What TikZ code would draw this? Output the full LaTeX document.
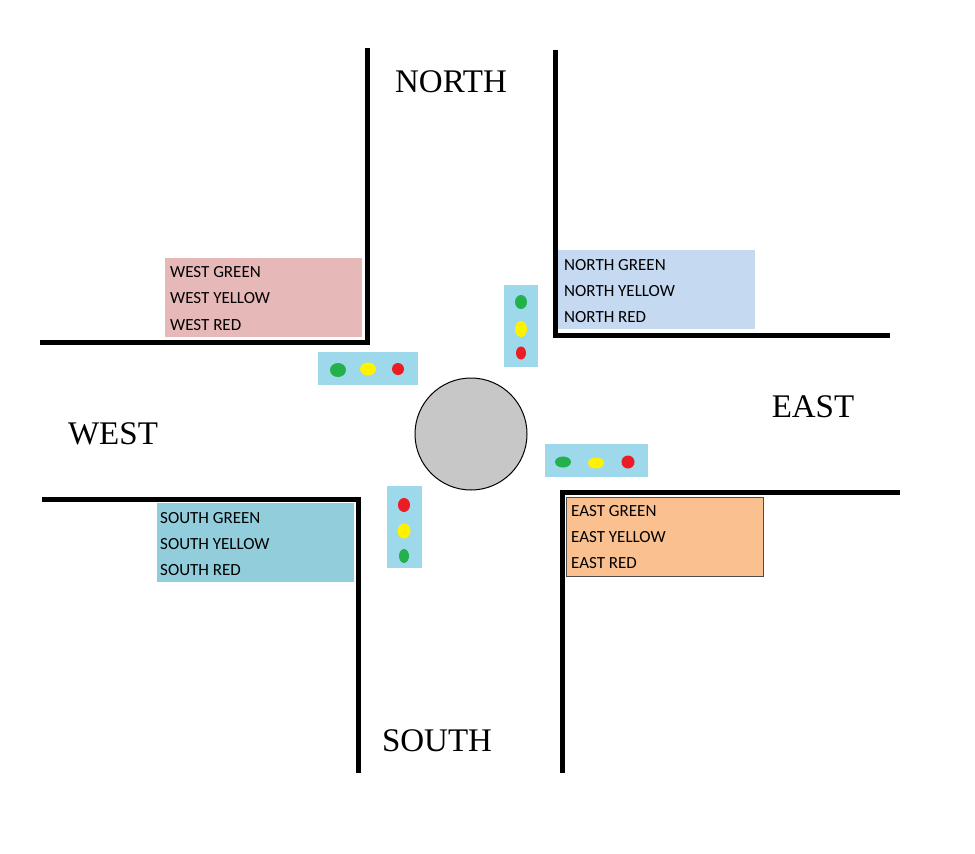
\documentclass[tikz,border=0pt]{standalone}
\usepackage{fontspec}
\setmainfont{Liberation Serif}
\newfontfamily\boxfont{Carlito}
\definecolor{pinkbox}{HTML}{E6B8B7}
\definecolor{bluebox}{HTML}{C5D9F1}
\definecolor{tealbox}{HTML}{92CDDC}
\definecolor{orangebox}{HTML}{FAC090}
\definecolor{lightbg}{HTML}{9DD9EA}
\definecolor{lgreen}{HTML}{22B14C}
\definecolor{lyellow}{HTML}{FFF200}
\definecolor{lred}{HTML}{ED1C24}
\begin{document}
\begin{tikzpicture}[x=1pt,y=-1pt,
  edge/.style={line width=5pt},
  infobox/.style={anchor=north west,inner sep=0pt,minimum width=197pt,minimum height=79pt},
  infotext/.style={anchor=west,font=\boxfont\fontsize{17}{20}\selectfont,inner sep=0pt},
  dirlabel/.style={font=\fontsize{33}{36}\selectfont},
  lampbg/.style={fill=lightbg,draw=none},
  lamp/.style={draw=none}]
\useasboundingbox (0,0) rectangle (975,854);
% roads
\draw[edge] (367,48) -- (367,342) -- (40,342);
\draw[edge] (555,50) -- (555,335) -- (890,335);
\draw[edge] (42,499) -- (358,499) -- (358,773);
\draw[edge] (900,492) -- (562,492) -- (562,773);
% info boxes
\node[infobox,fill=pinkbox] (wb) at (165,258) {};
\node[infotext] (w1) at (170,272) {WEST GREEN};
\node[infotext] (w2) at (170,298) {WEST YELLOW};
\node[infotext] (w3) at (170,325) {WEST RED};
\node[infobox,fill=bluebox] (nb) at (558,250) {};
\node[infotext] (n1) at (564,265) {NORTH GREEN};
\node[infotext] (n2) at (564,291) {NORTH YELLOW};
\node[infotext] (n3) at (564,317) {NORTH RED};
\node[infobox,fill=tealbox] (sb) at (157,503) {};
\node[infotext] (s1) at (160,518) {SOUTH GREEN};
\node[infotext] (s2) at (160,544) {SOUTH YELLOW};
\node[infotext] (s3) at (160,570) {SOUTH RED};
\node[infobox,fill=orangebox,draw=black!70,line width=0.8pt] (eb) at (566,497) {};
\node[infotext] (e1) at (571,511) {EAST GREEN};
\node[infotext] (e2) at (571,537) {EAST YELLOW};
\node[infotext] (e3) at (571,563) {EAST RED};
% traffic lights
\fill[lampbg] (318,352) rectangle (418,385);
\fill[lgreen] (338,370) ellipse (8 and 7);
\fill[lyellow] (368,369) ellipse (8 and 6.5);
\fill[lred] (398,369) ellipse (6 and 6);
\fill[lampbg] (504,285) rectangle (538,367);
\fill[lgreen] (521,302) ellipse (6 and 7);
\fill[lyellow] (521,329) ellipse (6 and 8);
\fill[lred] (521,353) ellipse (5 and 6.5);
\fill[lampbg] (545,444) rectangle (648,477);
\fill[lgreen] (563,462) ellipse (8 and 5.5);
\fill[lyellow] (596,463) ellipse (8 and 5.5);
\fill[lred] (628,462) ellipse (6.5 and 6.5);
\fill[lampbg] (387,486) rectangle (422,568);
\fill[lred] (404,505) ellipse (6 and 7);
\fill[lyellow] (404,531) ellipse (6.5 and 7.5);
\fill[lgreen] (404,556) ellipse (5 and 7);
% roundabout
\node[circle,draw=black,line width=1pt,fill=black!22,minimum size=112pt,inner sep=0pt] (rb) at (471,434) {};
% direction labels
\node[dirlabel] (north) at (451,82) {NORTH};
\node[dirlabel] (east) at (813,407) {EAST};
\node[dirlabel] (west) at (113,434) {WEST};
\node[dirlabel] (south) at (437,741) {SOUTH};
\end{tikzpicture}
\end{document}
